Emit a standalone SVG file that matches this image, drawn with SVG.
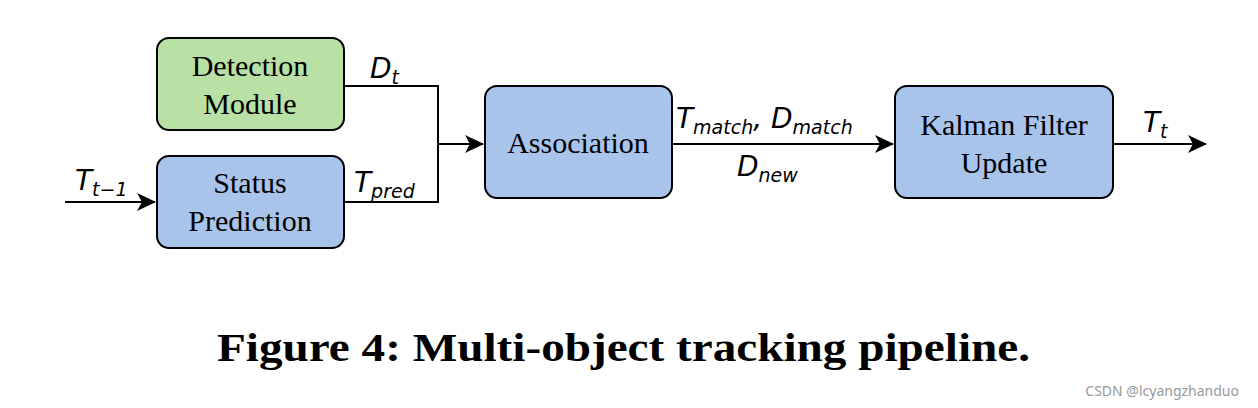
<svg xmlns="http://www.w3.org/2000/svg" width="1258" height="408" viewBox="0 0 1258 408">
<style>
.box{stroke:#000;stroke-width:2}
.g{fill:#b9e0a5}.b{fill:#a9c4eb}
.t{font-family:"Liberation Serif",serif;font-size:30px;text-anchor:middle;fill:#000}
.m{font-family:"DejaVu Sans",sans-serif;font-style:italic;font-size:28px;fill:#000}
.s{font-size:19px}
.c{fill:none;stroke:#000;stroke-width:2}
</style>
<defs>
<marker id="a2" markerWidth="20" markerHeight="20" refX="18" refY="10" orient="auto" markerUnits="userSpaceOnUse"><path d="M0,1 L19,10 L0,19 L5,10 Z" fill="#000"/></marker></defs>
<rect width="1258" height="408" fill="#fff"/>
<g id="detection"><rect class="box g" x="157" y="38" width="187" height="92" rx="12"/><text class="t" x="250" y="76">Detection</text><text class="t" x="250" y="114">Module</text></g>
<g id="status"><rect class="box b" x="157" y="156" width="187" height="92" rx="12"/><text class="t" x="250" y="193">Status</text><text class="t" x="250" y="231">Prediction</text></g>
<g id="association"><rect class="box b" x="485" y="86" width="187" height="112" rx="12"/><text class="t" x="578" y="153">Association</text></g>
<g id="kalman"><rect class="box b" x="895" y="86" width="218" height="112" rx="12"/><text class="t" x="1004" y="135">Kalman Filter</text><text class="t" x="1004" y="173">Update</text></g>
<g id="connectors">
<path class="c" d="M344,86 H438 V202 H344"/>
<path class="c" d="M438,144 H483" marker-end="url(#a2)"/>
<path class="c" d="M65,202 H155" marker-end="url(#a2)"/>
<path class="c" d="M672,144 H893" marker-end="url(#a2)"/>
<path class="c" d="M1113,144 H1206" marker-end="url(#a2)"/>
</g>
<g id="labels">
<text class="m" x="370" y="78">D<tspan class="s" dy="6">t</tspan></text>
<text class="m" x="354" y="192">T<tspan class="s" dy="6">pred</tspan></text>
<text class="m" x="75" y="190">T<tspan class="s" dy="6">t−1</tspan></text>
<text class="m" x="676" y="128">T<tspan class="s" dy="6">match</tspan><tspan dy="-6">, D</tspan><tspan class="s" dy="6">match</tspan></text>
<text class="m" x="737" y="176">D<tspan class="s" dy="6">new</tspan></text>
<text class="m" x="1143" y="132">T<tspan class="s" dy="6">t</tspan></text>
</g>
<text x="217" y="361" font-family="Liberation Serif,serif" font-weight="bold" font-size="40" textLength="813" lengthAdjust="spacingAndGlyphs">Figure 4: Multi-object tracking pipeline.</text>
<text x="1239" y="396" font-family="Noto Sans,sans-serif" font-size="14" fill="#999" text-anchor="end">CSDN @lcyangzhanduo</text>
</svg>
